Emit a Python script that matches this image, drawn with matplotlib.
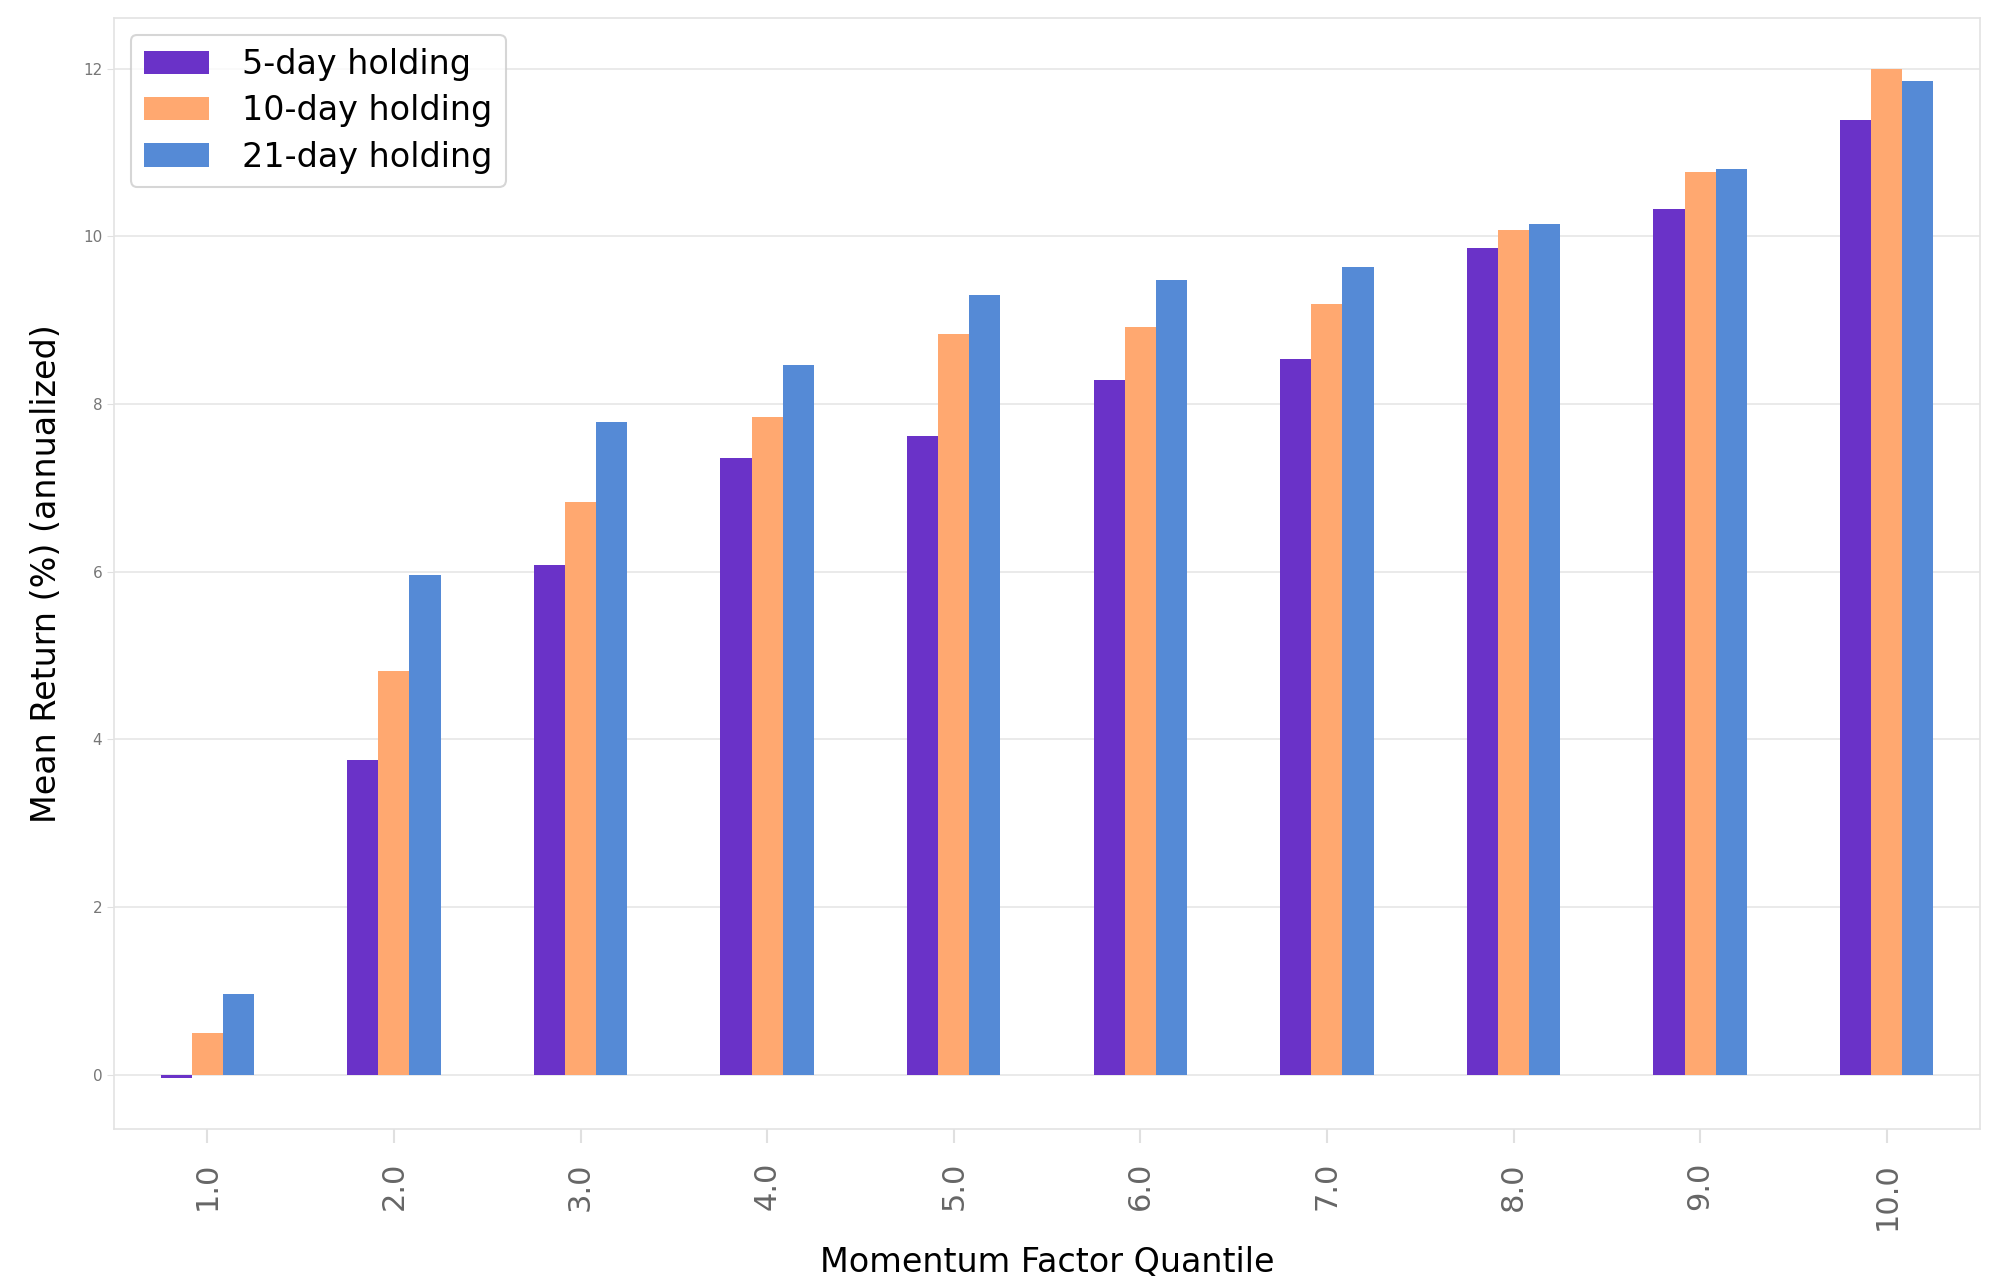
import numpy as np
import matplotlib
matplotlib.use("Agg")
import matplotlib.pyplot as plt

# quantile labels and mean annualized returns (%) per holding period
quantiles = [1.0, 2.0, 3.0, 4.0, 5.0, 6.0, 7.0, 8.0, 9.0, 10.0]
series_names = ["5-day holding", "10-day holding", "21-day holding"]
ret_5d = [-0.04, 3.75, 6.08, 7.36, 7.62, 8.28, 8.54, 9.86, 10.33, 11.39]
ret_10d = [0.50, 4.82, 6.83, 7.84, 8.83, 8.92, 9.19, 10.07, 10.77, 12.00]
ret_21d = [0.96, 5.96, 7.78, 8.46, 9.30, 9.48, 9.63, 10.15, 10.80, 11.85]
colors = ["#6a32c8", "#ffa870", "#558ad6"]

fig = plt.figure(figsize=(20, 12.87), dpi=100)
ax = fig.add_axes([0.057, 0.123, 0.933, 0.863])

x = np.arange(len(quantiles))
width = 0.5 / 3
for i, (vals, name, c) in enumerate(zip([ret_5d, ret_10d, ret_21d], series_names, colors)):
    ax.bar(x + (i - 1) * width, vals, width, color=c, label=name, linewidth=0)

ax.set_xlim(-0.5, len(quantiles) - 0.5)
ax.set_xticks(x)
ax.set_xticklabels([f"{q:.1f}" for q in quantiles], rotation=90, fontsize=22, color="#666666")
ax.tick_params(axis="x", length=10, width=1.5, color="#e0e0e0", pad=14)
ax.tick_params(axis="y", labelsize=11, labelcolor="#777777", length=5, color="#e0e0e0")

ax.grid(axis="y", color="#e6e6e6", linewidth=1.2)
ax.set_axisbelow(True)
for sp in ax.spines.values():
    sp.set_color("#e3e3e3")
    sp.set_linewidth(1.2)

ax.set_xlabel("Momentum Factor Quantile", fontsize=24, labelpad=12)
ax.set_ylabel("Mean Return (%) (annualized)", fontsize=24, labelpad=14)

leg = ax.legend(loc="upper left", fontsize=24, frameon=True, borderpad=0.4,
                handlelength=1.95, handleheight=0.7, handletextpad=1.0,
                labelspacing=0.4)
leg.get_frame().set_edgecolor("#cccccc")
leg.get_frame().set_linewidth(1.5)

fig.savefig("out.png", dpi=100)
